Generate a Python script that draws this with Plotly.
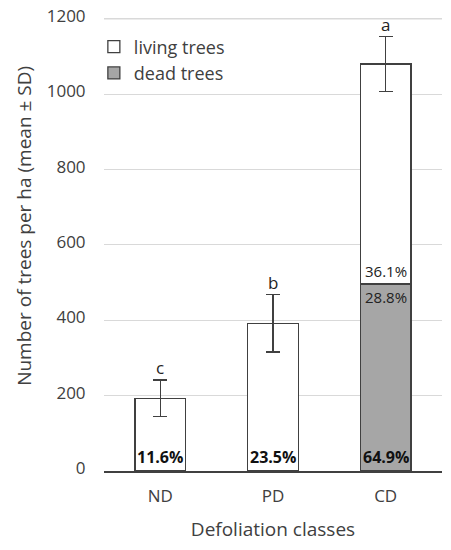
import plotly.graph_objects as go

# data
classes = ["ND", "PD", "CD"]
living = [193, 392, 584]
dead = [0, 0, 496]
sd = [48, 76, 73]
letters = ["c", "b", "a"]
pct_total = ["11.6%", "23.5%", "64.9%"]
pct_living_cd = "36.1%"
pct_dead_cd = "28.8%"
ymax = 1200

total = [l + d for l, d in zip(living, dead)]
edge = "#404040"
font = "Open Sans"

fig = go.Figure()
fig.add_trace(go.Bar(x=classes, y=dead, name="dead trees",
                     marker=dict(color="#a6a6a6", line=dict(color=edge, width=1.3))))
fig.add_trace(go.Bar(x=classes, y=living, name="living trees",
                     marker=dict(color="white", line=dict(color=edge, width=1.3)),
                     error_y=dict(type="data", array=sd, visible=True,
                                  color=edge, thickness=1.6, width=7)))

# significance letters above the error bars
for c, t, s, lt in zip(classes, total, sd, letters):
    fig.add_annotation(x=c, y=t + s, text=lt, showarrow=False, yanchor="bottom",
                       yshift=-1, font=dict(size=17, color="#222", family=font))

# share of trees per class, bottom of bar
for c, p in zip(classes, pct_total):
    fig.add_annotation(x=c, y=0, text="<b>" + p + "</b>", showarrow=False,
                       yanchor="bottom", yshift=1,
                       font=dict(size=16, color="#111", family=font))

# CD split labels
fig.add_annotation(x="CD", y=dead[2], text=pct_living_cd, showarrow=False,
                   yanchor="bottom", yshift=1, font=dict(size=15, color="#222", family=font))
fig.add_annotation(x="CD", y=dead[2], text=pct_dead_cd, showarrow=False,
                   yanchor="top", yshift=-1, font=dict(size=15, color="#222", family=font))

# y title as annotation, it sits a bit above the middle in the original
fig.add_annotation(x=0, y=0.54, xref="paper", yref="paper", xshift=-80,
                   xanchor="center", yanchor="middle",
                   text="Number of trees per ha (mean ± SD)", textangle=-90,
                   showarrow=False, font=dict(size=19, color="#404040", family=font))

# top gridline, plotly tends to drop the one at the range end
fig.add_shape(type="line", xref="paper", x0=0, x1=1, yref="y", y0=ymax, y1=ymax,
              line=dict(color="#d9d9d9", width=1.3), layer="below")

# page body has an 8px margin, so the figure is shrunk by that much
fig.update_layout(
    width=443, height=542,
    margin=dict(l=96, r=9, t=9, b=79),
    barmode="stack", bargap=0.55,
    plot_bgcolor="white", paper_bgcolor="white",
    font=dict(family=font, color="#595959", size=16),
    showlegend=True,
    legend=dict(x=-0.03, y=0.975, xanchor="left", yanchor="top",
                bgcolor="rgba(0,0,0,0)", font=dict(size=18, color="#404040"),
                tracegroupgap=0),
)
# range a little above 1200 so the top gridline stays inside the plot
fig.update_yaxes(range=[0, 1205], dtick=200,
                 showgrid=True, gridcolor="#d9d9d9",
                 gridwidth=1.3, zeroline=False, showline=False,
                 ticks="outside", ticklen=14, tickcolor="rgba(0,0,0,0)",
                 ticklabelshift=-3, ticklabeloverflow="allow", automargin=False,
                 tickfont=dict(size=17, color="#404040"))
fig.update_xaxes(showline=True, linecolor="#404040", linewidth=1.6,
                 ticks="outside", ticklen=9, tickcolor="rgba(0,0,0,0)",
                 title=dict(text="Defoliation classes", font=dict(size=19, color="#404040"),
                            standoff=16),
                 tickfont=dict(size=17, color="#404040"))

fig.write_html("out.html")
